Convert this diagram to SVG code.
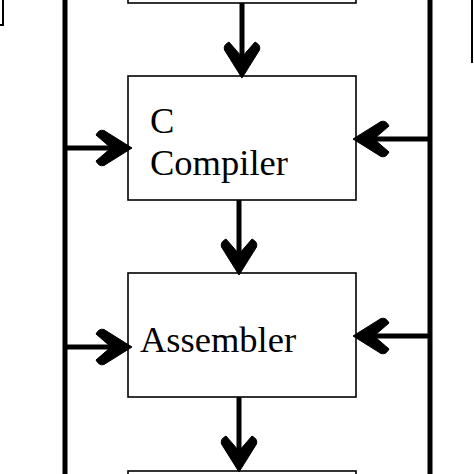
<svg xmlns="http://www.w3.org/2000/svg" xmlns:xlink="http://www.w3.org/1999/xlink" width="474" height="474" viewBox="0 0 474 474">
<style>
.box{fill:#fff;stroke:#000;stroke-width:1.6}
.bus{stroke:#000;stroke-width:5;fill:none}
.shaft{stroke:#000;stroke-width:5;fill:none}
.lbl{font-family:"Liberation Serif","Times New Roman",serif;font-size:36.5px;fill:#000}
</style>
<defs>
<path id="ah" d="M1,0 L-27,-17.5 Q-32,-19 -35,-13 L-20,0 L-35,13 Q-32,19 -27,17.5 Z" fill="#000" stroke="#000" stroke-width="1" stroke-linejoin="round"/>
</defs>
<rect width="474" height="474" fill="#fff"/>
<g id="topleft"><path d="M0,25 L3,25 L3,0" fill="none" stroke="#000" stroke-width="2"/></g>
<g id="topright"><path d="M472,0 L472,63" fill="none" stroke="#000" stroke-width="2"/></g>
<g id="top-box"><rect class="box" x="128" y="-40" width="228" height="43"/></g>
<g id="c-compiler"><rect class="box" x="128" y="76" width="228" height="124"/><text class="lbl" x="150" y="133">C</text><text class="lbl" x="150" y="175">Compiler</text></g>
<g id="assembler"><rect class="box" x="128" y="273" width="228" height="124"/><text class="lbl" x="140" y="352">Assembler</text></g>
<g id="bottom-box"><rect class="box" x="128" y="471" width="228" height="20" stroke-width="2.5"/></g>
<g id="connectors">
<line class="bus" x1="65" y1="0" x2="65" y2="474"/>
<line class="bus" x1="430" y1="0" x2="430" y2="474"/>
<line class="shaft" x1="242" y1="3" x2="242" y2="62"/>
<use xlink:href="#ah" transform="translate(242,77) rotate(90)"/>
<line class="shaft" x1="239" y1="200" x2="239" y2="258"/>
<use xlink:href="#ah" transform="translate(239,274) rotate(90)"/>
<line class="shaft" x1="239" y1="397" x2="239" y2="455"/>
<use xlink:href="#ah" transform="translate(239,471) rotate(90)"/>
<line class="shaft" x1="65" y1="148" x2="116" y2="148"/>
<use xlink:href="#ah" transform="translate(131,148)"/>
<line class="shaft" x1="65" y1="347" x2="116" y2="347"/>
<use xlink:href="#ah" transform="translate(131,347)"/>
<line class="shaft" x1="430" y1="139" x2="368" y2="139"/>
<use xlink:href="#ah" transform="translate(354,139) rotate(180)"/>
<line class="shaft" x1="430" y1="336" x2="368" y2="336"/>
<use xlink:href="#ah" transform="translate(354,336) rotate(180)"/>
</g>
</svg>
